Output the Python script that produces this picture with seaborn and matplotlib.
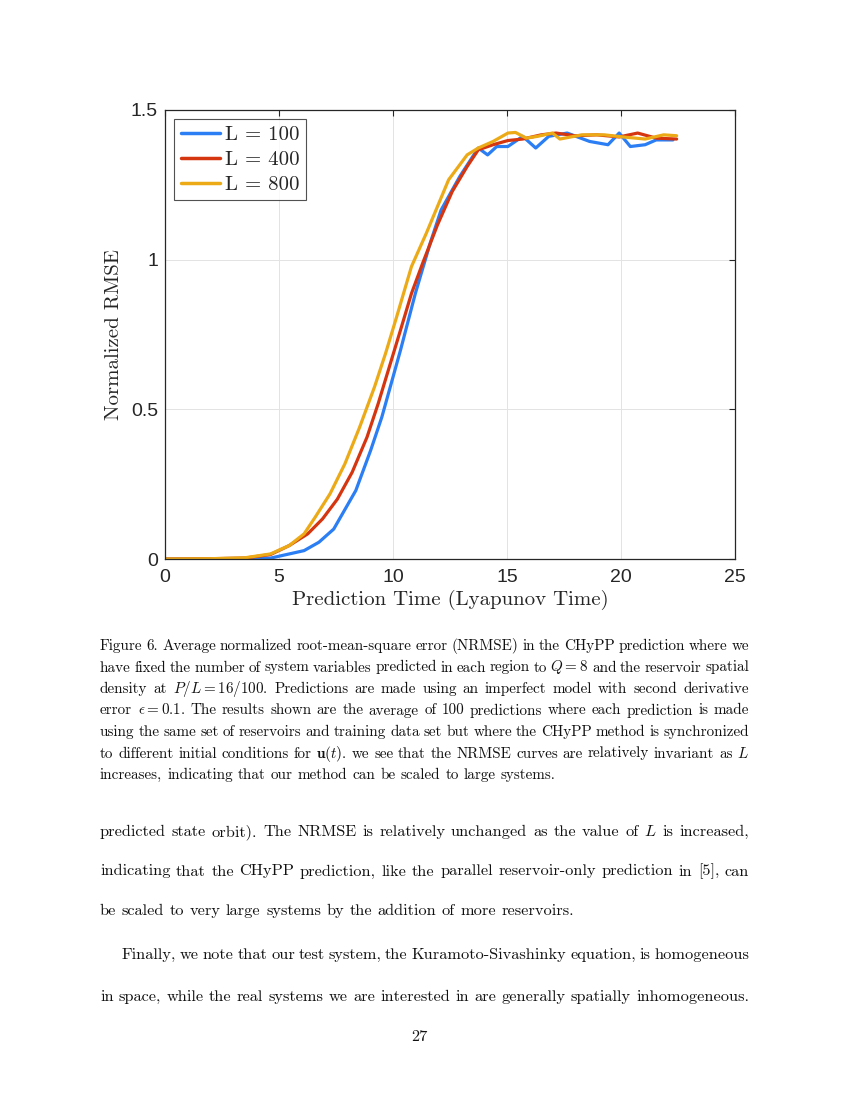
import numpy as np
import pandas as pd
import matplotlib
matplotlib.use("Agg")
import matplotlib.pyplot as plt
import seaborn as sns

# NRMSE curves (time in Lyapunov times)
t_100 = [0, 2.0, 3.5, 4.63, 6.10, 6.75, 7.40, 8.37, 9.02, 9.51, 9.84, 10.33, 10.98,
         11.63, 12.11, 12.93, 13.74, 14.15, 14.55, 15.04, 15.69, 16.26, 16.83,
         17.64, 18.62, 19.43, 19.92, 20.41, 21.06, 21.54, 22.28]
nrmse_100 = [0, 0.001, 0.002, 0.003, 0.028, 0.056, 0.10, 0.229, 0.363, 0.474, 0.564,
             0.698, 0.887, 1.055, 1.166, 1.278, 1.373, 1.350, 1.378, 1.378, 1.412,
             1.373, 1.412, 1.423, 1.395, 1.384, 1.423, 1.378, 1.384, 1.400, 1.400]

t_400 = [0, 2.0, 3.5, 4.63, 5.45, 6.26, 6.91, 7.56, 8.21, 8.86, 9.35, 9.84, 10.33,
         10.81, 11.30, 11.95, 12.60, 13.25, 13.74, 14.39, 15.04, 15.69, 16.50,
         17.15, 17.97, 18.94, 19.92, 20.73, 21.54, 22.44]
nrmse_400 = [0, 0.001, 0.003, 0.015, 0.045, 0.084, 0.134, 0.200, 0.290, 0.407, 0.519,
             0.642, 0.765, 0.887, 0.988, 1.116, 1.228, 1.311, 1.367, 1.384, 1.398,
             1.403, 1.417, 1.423, 1.414, 1.417, 1.410, 1.423, 1.406, 1.403]

t_800 = [0, 2.0, 3.5, 4.63, 5.45, 6.10, 6.59, 7.24, 7.89, 8.54, 9.19, 9.67, 10.16,
         10.81, 11.46, 12.44, 13.25, 13.74, 14.39, 15.04, 15.37, 15.85, 16.34,
         16.99, 17.32, 18.29, 19.27, 20.08, 21.06, 21.87, 22.44]
nrmse_800 = [0, 0.001, 0.004, 0.017, 0.045, 0.084, 0.140, 0.218, 0.318, 0.441, 0.575,
             0.686, 0.809, 0.977, 1.088, 1.267, 1.350, 1.373, 1.395, 1.423, 1.425,
             1.406, 1.412, 1.423, 1.403, 1.417, 1.417, 1.410, 1.403, 1.417, 1.414]

series_labels = ["L = 100", "L = 400", "L = 800"]
series_colors = ["#2b7ef3", "#d6360f", "#ecaa17"]

x_ticks = [0, 5, 10, 15, 20, 25]
y_ticks = [0, 0.5, 1, 1.5]
y_tick_labels = ["0", "0.5", "1", "1.5"]

caption_lines = [
    "Figure 6. Average normalized root-mean-square error (NRMSE) in the CHyPP prediction where we",
    "have fixed the number of system variables predicted in each region to $Q=8$ and the reservoir spatial",
    "density at $P/L=16/100$. Predictions are made using an imperfect model with second derivative",
    "error $\\epsilon=0.1$. The results shown are the average of 100 predictions where each prediction is made",
    "using the same set of reservoirs and training data set but where the CHyPP method is synchronized",
    "to different initial conditions for $\\mathbf{u}(t)$. we see that the NRMSE curves are relatively invariant as $L$",
    "increases, indicating that our method can be scaled to large systems.",
]
body_lines = [
    "predicted state orbit). The NRMSE is relatively unchanged as the value of $L$ is increased,",
    "indicating that the CHyPP prediction, like the parallel reservoir-only prediction in [5], can",
    "be scaled to very large systems by the addition of more reservoirs.",
    "Finally, we note that our test system, the Kuramoto-Sivashinky equation, is homogeneous",
    "in space, while the real systems we are interested in are generally spatially inhomogeneous.",
]

sns.set_theme(style="white")
plt.rcParams["mathtext.fontset"] = "cm"
plt.rcParams["font.family"] = ["cmr10", "DejaVu Serif"]
plt.rcParams["axes.unicode_minus"] = False

W, H = 850, 1100
fig = plt.figure(figsize=(8.5, 11), dpi=100)
fig.patch.set_facecolor("white")
ax = fig.add_axes([165 / W, 1 - 559 / H, 570 / W, 449 / H])

frames = []
for lab, t, v in zip(series_labels, [t_100, t_400, t_800], [nrmse_100, nrmse_400, nrmse_800]):
    frames.append(pd.DataFrame({"t": t, "nrmse": v, "L": lab}))
df = pd.concat(frames, ignore_index=True)

sns.lineplot(data=df, x="t", y="nrmse", hue="L", hue_order=series_labels,
             palette=dict(zip(series_labels, series_colors)), estimator=None,
             sort=False, linewidth=2.3, ax=ax)

ax.set_xlim(0, 25)
ax.set_ylim(0, 1.5)
ax.set_xticks(x_ticks)
ax.set_xticklabels([str(v) for v in x_ticks], family="Liberation Sans", fontsize=14)
ax.set_yticks(y_ticks)
ax.set_yticklabels(y_tick_labels, family="Liberation Sans", fontsize=14)
ax.tick_params(direction="in", length=4.5, width=0.8, color="#262626",
               top=True, right=True, labelcolor="#262626")
ax.tick_params(axis="x", pad=7)
ax.tick_params(axis="y", pad=5)
ax.grid(True, color="#e3e3e3", linewidth=0.7)
for s in ax.spines.values():
    s.set_visible(True)
    s.set_color("#262626")
    s.set_linewidth(0.9)

ax.set_xlabel("Prediction Time (Lyapunov Time)", fontsize=15, labelpad=3, color="#262626")
ax.set_ylabel("Normalized RMSE", fontsize=15, labelpad=6, color="#262626")

leg = ax.legend(loc="upper left", fontsize=15, frameon=True, fancybox=False,
                handlelength=1.9, handletextpad=0.25, borderpad=0.3,
                labelspacing=0.3, borderaxespad=0.45)
leg.get_frame().set_edgecolor("#262626")
leg.get_frame().set_linewidth(0.8)
for h in leg.get_lines():
    h.set_linewidth(2.5)

renderer = fig.canvas.get_renderer()


def put_line(text, x0, x1, y_base, size, justify=True):
    # lay words out one by one so the line fills x0..x1 like justified TeX
    words = text.split(" ")
    while True:
        objs = [fig.text(0, 0, w, fontsize=size, va="baseline", ha="left", color="#111111")
                for w in words]
        widths = [o.get_window_extent(renderer).width for o in objs]
        space = size * 100 / 72 * 0.333
        need = sum(widths) + (len(words) - 1) * space * 0.6
        if need <= x1 - x0 or not justify:
            break
        for o in objs:
            o.remove()
        size -= 0.1
    if justify and len(words) > 1:
        gap = (x1 - x0 - sum(widths)) / (len(words) - 1)
    else:
        gap = space
    x = x0
    for o, w in zip(objs, widths):
        o.set_position((x / W, 1 - y_base / H))
        x += w + gap


cap_y = [650 + 21.5 * i for i in range(len(caption_lines))]
for i, line in enumerate(caption_lines):
    put_line(line, 100, 749, cap_y[i], 10.9, justify=(i < len(caption_lines) - 1))

body_y = [836, 875.5, 915, 959, 1001]
body_x0 = [100, 100, 100, 122, 100]
body_just = [True, True, False, True, True]
for line, y, x0, j in zip(body_lines, body_y, body_x0, body_just):
    put_line(line, x0, 749, y, 11.75, justify=j)

fig.text(419 / W, 1 - 1041 / H, "27", fontsize=11.75, ha="center", va="baseline",
         color="#111111")

fig.savefig("out.png", dpi=100, facecolor="white")
